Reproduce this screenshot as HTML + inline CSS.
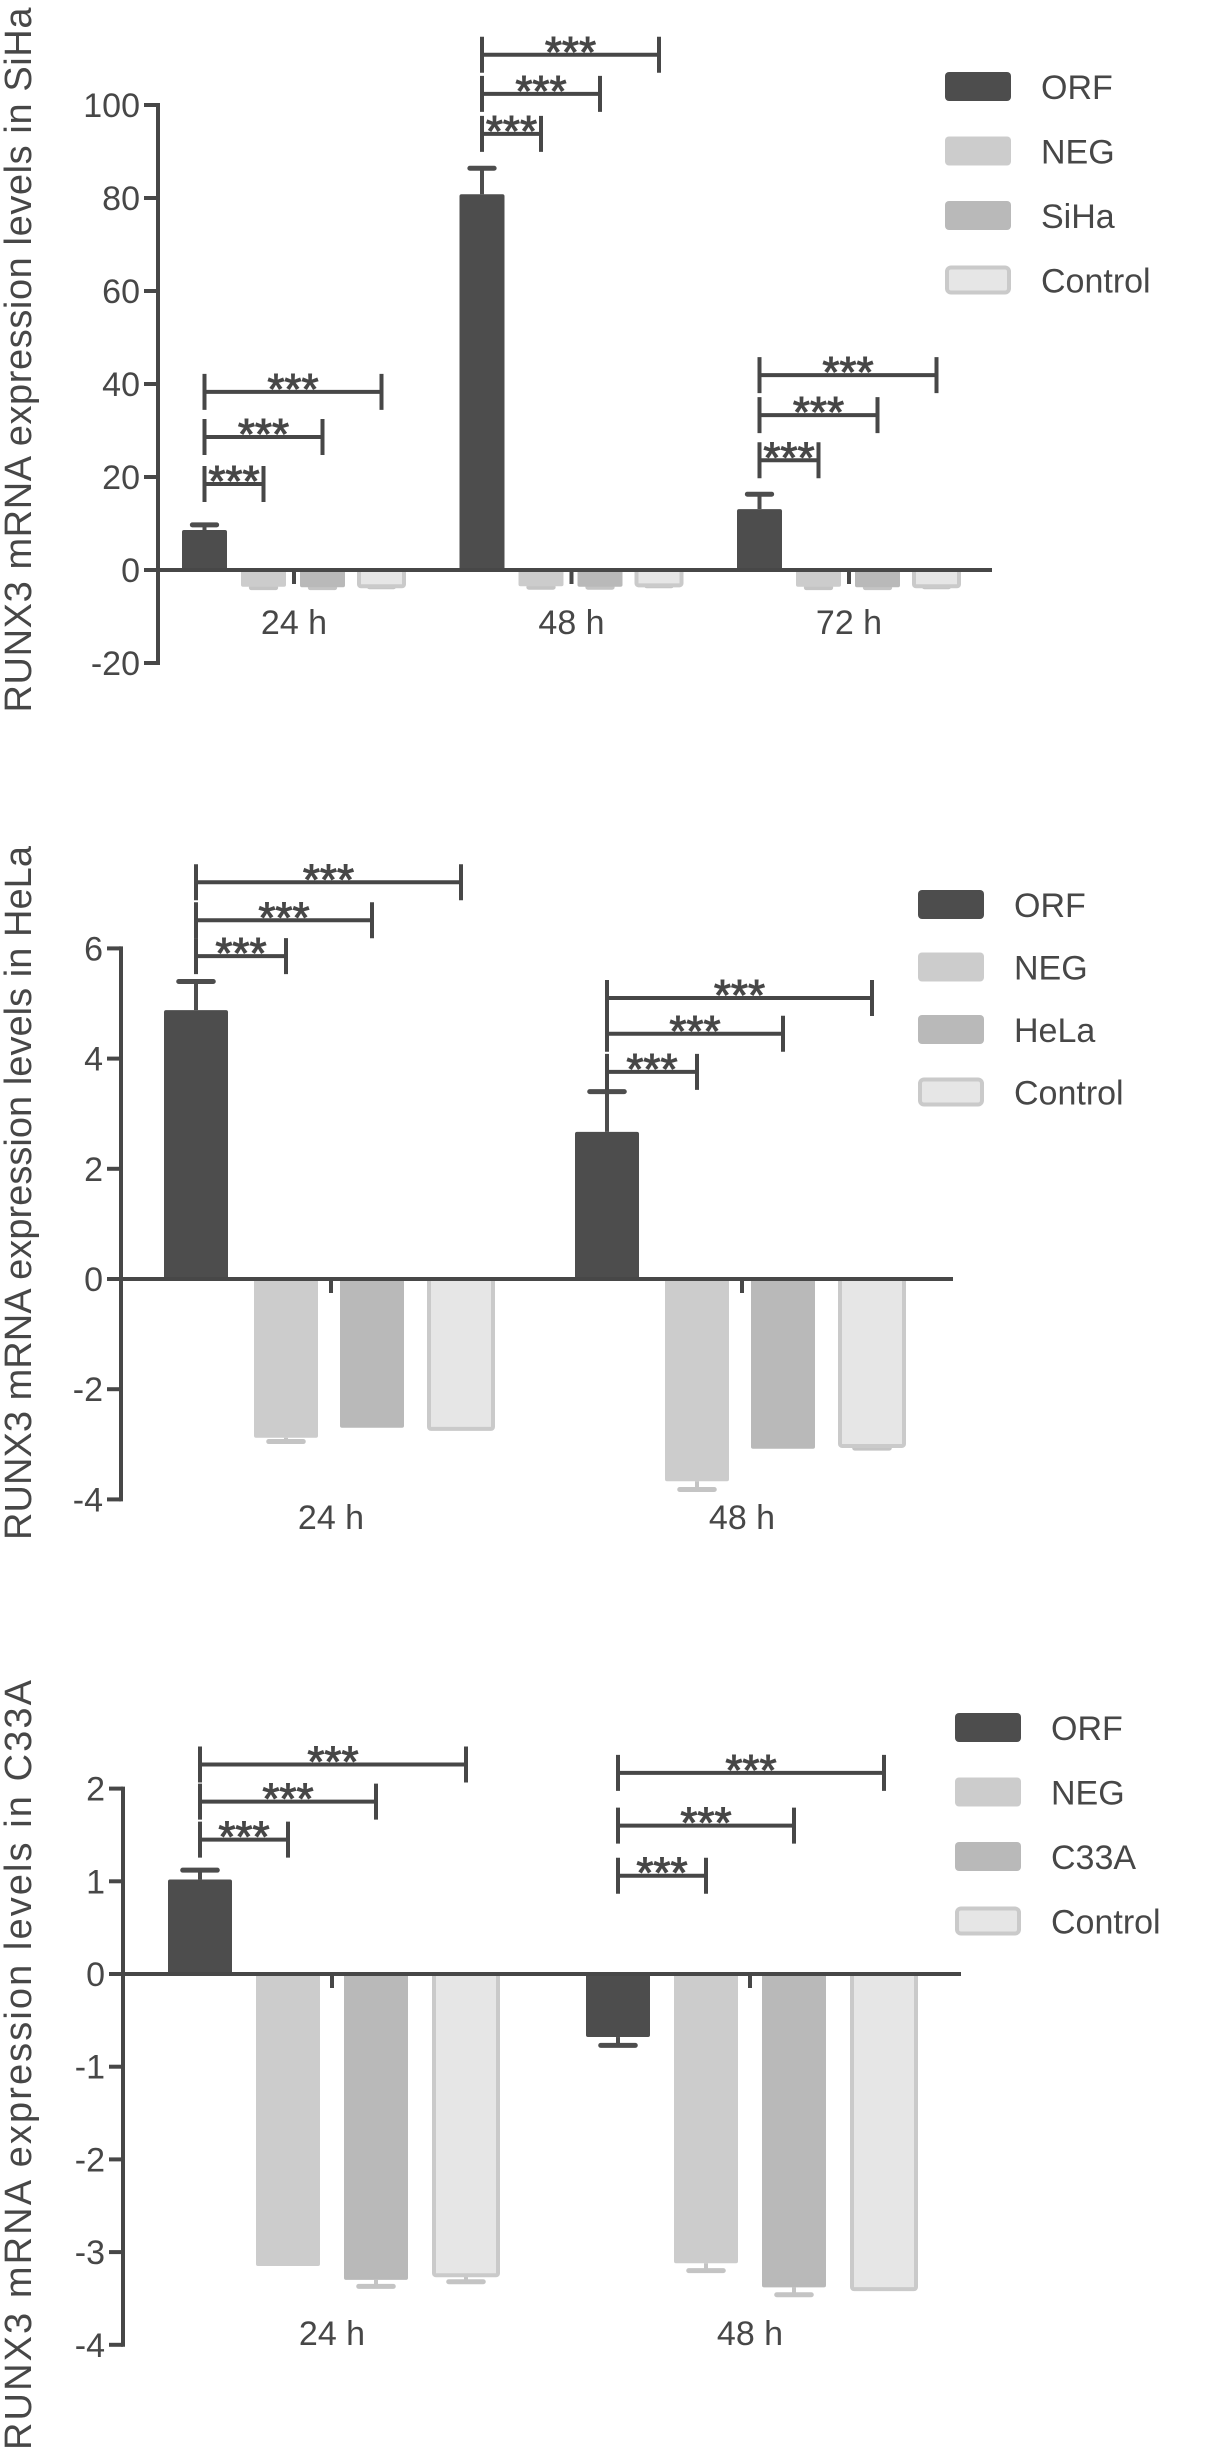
<!DOCTYPE html>
<html><head><meta charset="utf-8"><style>
html,body{margin:0;padding:0;background:#fff;}
svg{display:block;font-family:"Liberation Sans",Arial,sans-serif;}
</style></head><body>
<svg id="fig" width="1205" height="2461" viewBox="0 0 1205 2461" xmlns="http://www.w3.org/2000/svg"></svg>
<script>
// ---------- data ----------
const seriesNames = ["ORF","NEG","CELL","Control"];
const c1Groups = ["24 h","48 h","72 h"];
const c1ORF = [8.6, 80.8, 13.1];
const c1ORFerr = [1.1, 5.6, 3.2];
const c1NEG = [-3.6, -3.5, -3.6];
const c1NEGerr = [0.2, 0.2, 0.2];
const c1Cell = [-3.7, -3.6, -3.7];
const c1CellErr = [0.1, 0.1, 0.1];
const c1Ctrl = [-3.5, -3.3, -3.5];
const c1CtrlErr = [0.1, 0.1, 0.1];
const c1Ticks = [100, 80, 60, 40, 20, 0, -20];
const c1Brackets = [18.5, 28.6, 38.3];
const c1Brackets48 = [93.8, 102.4, 110.8];
const c1Brackets72 = [23.6, 33.3, 41.9];

const c2Groups = ["24 h","48 h"];
const c2ORF = [4.88, 2.67];
const c2ORFerr = [0.52, 0.73];
const c2NEG = [-2.88, -3.67];
const c2NEGerr = [0.07, 0.15];
const c2Cell = [-2.7, -3.08];
const c2CellErr = [0.0, 0.0];
const c2Ctrl = [-2.72, -3.03];
const c2CtrlErr = [0.0, 0.04];
const c2Ticks = [6, 4, 2, 0, -2, -4];
const c2Brackets24 = [5.86, 6.51, 7.2];
const c2Brackets48 = [3.76, 4.45, 5.1];

const c3Groups = ["24 h","48 h"];
const c3ORF = [1.02, -0.68];
const c3ORFerr = [0.1, 0.09];
const c3NEG = [-3.15, -3.12];
const c3NEGerr = [0.0, 0.08];
const c3Cell = [-3.3, -3.38];
const c3CellErr = [0.07, 0.08];
const c3Ctrl = [-3.25, -3.4];
const c3CtrlErr = [0.07, 0.0];
const c3Ticks = [2, 1, 0, -1, -2, -3, -4];
const c3Brackets24 = [1.45, 1.86, 2.26];
const c3Brackets48 = [1.06, 1.6, 2.17];

// ---------- drawing ----------
const NS = "http://www.w3.org/2000/svg";
const svg = document.getElementById("fig");
const INK = "#474747";
const fills = ["#4d4d4d","#cccccc","#b9b9b9","#e6e6e6"];

function mk(tag, attrs, parent) {
  const e = document.createElementNS(NS, tag);
  for (const k in attrs) e.setAttribute(k, attrs[k]);
  (parent || svg).appendChild(e);
  return e;
}

function drawChart(cfg) {
  const g = mk("g", {});
  
  
  const y = v => cfg.y0 - v * cfg.ppu;
  const gx = i => cfg.g0 + i * cfg.gs;
  const barX = (i, s) => gx(i) + cfg.offs[s];
  const barC = (i, s) => barX(i, s) + cfg.bw / 2;

  const t = mk("text", {x: 0, y: 0, "font-size": 38, fill: INK, "text-anchor": "middle",
    textLength: cfg.titleLen, lengthAdjust: "spacing",
    transform: `translate(${cfg.titleX},${cfg.titleY}) rotate(-90)`}, g);
  t.textContent = cfg.title;
  
  

  const vals = [cfg.orf, cfg.neg, cfg.cell, cfg.ctrl];
  const errs = [cfg.orfE, cfg.negE, cfg.cellE, cfg.ctrlE];
  cfg.groups.forEach((lab, i) => {
    for (let s = 0; s < 4; s++) {
      const v = vals[s][i], e = errs[s][i];
      const x = barX(i, s);
      const top = Math.min(y(v), y(0)), h = Math.abs(y(v) - y(0));
      const cx = barC(i, s);
      if (e > 0) {
        const ye = y(v + (v >= 0 ? e : -e));
        const el = mk("line", {x1: cx, x2: cx, y1: y(v), y2: ye, stroke: s === 0 ? fills[0] : "#c4c4c4", "stroke-width": 4}, g);
        
        
        const cap = mk("line", {x1: cx - cfg.bw * 0.27, x2: cx + cfg.bw * 0.27, y1: ye, y2: ye, stroke: s === 0 ? fills[0] : "#c4c4c4", "stroke-width": 5, "stroke-linecap": "round"}, g);
        
        
      }
      const r = mk("rect", {x: x, y: top, width: cfg.bw, height: h, rx: 2,
        fill: fills[s], stroke: s === 3 ? "#cacaca" : "none", "stroke-width": s === 3 ? 4 : 0}, g);
      
      
    }
    const tk = mk("line", {x1: gx(i), x2: gx(i), y1: y(0), y2: y(0) + 14, stroke: INK, "stroke-width": 4}, g);
    
    
    const xl = mk("text", {x: gx(i), y: cfg.xlabY, "font-size": 34, fill: INK, "text-anchor": "middle"}, g);
    xl.textContent = lab;
    
    
  });

  const ya = mk("line", {x1: cfg.ax, x2: cfg.ax, y1: y(cfg.ticks[0]) - 2, y2: y(cfg.ticks[cfg.ticks.length - 1]) + 2, stroke: INK, "stroke-width": 4}, g);
  
  
  const xa = mk("line", {x1: cfg.ax, x2: cfg.xEnd, y1: y(0), y2: y(0), stroke: INK, "stroke-width": 4}, g);
  
  
  cfg.ticks.forEach(tv => {
    const l = mk("line", {x1: cfg.ax - 14, x2: cfg.ax, y1: y(tv), y2: y(tv), stroke: INK, "stroke-width": 4}, g);
    
    
    const tx = mk("text", {x: cfg.ax - 18, y: y(tv) + 12, "font-size": 34, fill: INK, "text-anchor": "end"}, g);
    tx.textContent = tv;
    
    
  });

  cfg.brackets.forEach((arr, gi) => {
    if (!arr) return;
    arr.forEach((hv, k) => {
      const x1 = barC(gi, 0), x2 = barC(gi, k + 1), yy = y(hv);
      const b = mk("path", {d: `M${x1} ${yy - 18}V${yy + 18}M${x1} ${yy}H${x2}M${x2} ${yy - 18}V${yy + 18}`,
        stroke: INK, "stroke-width": 4, fill: "none"}, g);
      
      
      const st = mk("text", {x: (x1 + x2) / 2, y: yy + 12, "font-size": 44, fill: INK, stroke: INK, "stroke-width": 1, "text-anchor": "middle"}, g);
      st.textContent = "***";
      
      
    });
  });

  cfg.legendNames.forEach((nm, s) => {
    const ly = cfg.legY + s * cfg.legGap;
    const sw = mk("rect", {x: cfg.legX + (s === 3 ? 2 : 0), y: ly + (s === 3 ? 2 : 0), width: s === 3 ? 62 : 66, height: s === 3 ? 25 : 29, rx: 4,
      fill: fills[s], stroke: s === 3 ? "#cacaca" : "none", "stroke-width": s === 3 ? 4 : 0}, g);
    
    
    const lt = mk("text", {x: cfg.legX + 96, y: ly + 27, "font-size": 34, fill: INK}, g);
    lt.textContent = nm;
    
    
  });
}

drawChart({name: "siha-chart", title: "RUNX3 mRNA expression levels in SiHa", titleX: 31, titleY: 360, titleLen: 705,
  groups: c1Groups, orf: c1ORF, neg: c1NEG, cell: c1Cell, ctrl: c1Ctrl,
  orfE: c1ORFerr, negE: c1NEGerr, cellE: c1CellErr, ctrlE: c1CtrlErr, ticks: c1Ticks,
  brackets: [c1Brackets, c1Brackets48, c1Brackets72],
  ax: 158, y0: 570, ppu: 4.65, g0: 294, gs: 277.5, offs: [-112, -53, 6, 65], bw: 45, xEnd: 992, xlabY: 634,
  legendNames: ["ORF","NEG","SiHa","Control"], legX: 945, legY: 72, legGap: 64.5});

drawChart({name: "hela-chart", title: "RUNX3 mRNA expression levels in HeLa", titleX: 31, titleY: 1193, titleLen: 694,
  groups: c2Groups, orf: c2ORF, neg: c2NEG, cell: c2Cell, ctrl: c2Ctrl,
  orfE: c2ORFerr, negE: c2NEGerr, cellE: c2CellErr, ctrlE: c2CtrlErr, ticks: c2Ticks,
  brackets: [c2Brackets24, c2Brackets48],
  ax: 121, y0: 1279, ppu: 55.1, g0: 331, gs: 411, offs: [-167, -77, 9, 98], bw: 64, xEnd: 953, xlabY: 1529,
  legendNames: ["ORF","NEG","HeLa","Control"], legX: 918, legY: 890, legGap: 62.5});

drawChart({name: "c33a-chart", title: "RUNX3 mRNA expression levels in C33A", titleX: 31, titleY: 2065, titleLen: 770,
  groups: c3Groups, orf: c3ORF, neg: c3NEG, cell: c3Cell, ctrl: c3Ctrl,
  orfE: c3ORFerr, negE: c3NEGerr, cellE: c3CellErr, ctrlE: c3CtrlErr, ticks: c3Ticks,
  brackets: [c3Brackets24, c3Brackets48],
  ax: 123, y0: 1974, ppu: 92.7, g0: 332, gs: 418, offs: [-164, -76, 12, 102], bw: 64, xEnd: 961, xlabY: 2345,
  legendNames: ["ORF","NEG","C33A","Control"], legX: 955, legY: 1713, legGap: 64.5});
</script>
</body></html>
